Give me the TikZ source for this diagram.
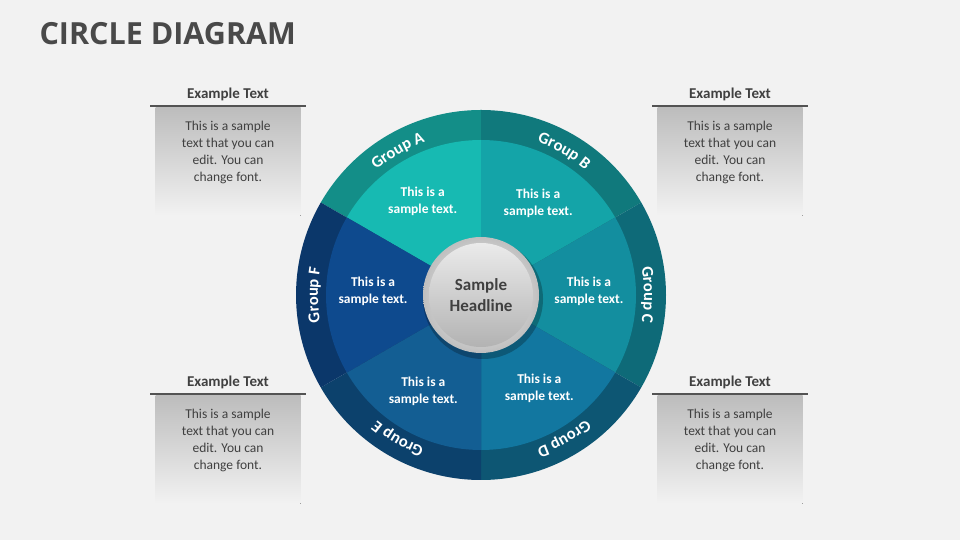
\documentclass[tikz,border=0pt]{standalone}
\usepackage{fontspec}
\setmainfont{Carlito}
\newfontfamily\titlefont{Open Sans}
\usetikzlibrary{decorations.text,shadows,calc}
\definecolor{bg}{HTML}{F2F2F2}
\definecolor{txt}{HTML}{404040}
\definecolor{oA}{HTML}{138E88}\definecolor{iA}{HTML}{17BAB2}
\definecolor{oB}{HTML}{10797C}\definecolor{iB}{HTML}{14A4A8}
\definecolor{oC}{HTML}{0E6A78}\definecolor{iC}{HTML}{138E9F}
\definecolor{oD}{HTML}{0D5673}\definecolor{iD}{HTML}{1277A0}
\definecolor{oE}{HTML}{0C416C}\definecolor{iE}{HTML}{135E93}
\definecolor{oF}{HTML}{0B376A}\definecolor{iF}{HTML}{0E4A8E}
\tikzset{
  x=1pt,y=1pt,
  head/.style={font=\bfseries\fontsize{15}{17}\selectfont, text=txt},
  body/.style={font=\fontsize{13.5}{17}\selectfont, text=txt, align=center},
  sect/.style={font=\bfseries\fontsize{13.5}{17}\selectfont, text=white, align=center},
  gbox/.style={top color=black!26, bottom color=bg, draw=none},
  hline/.style={draw=txt!90, line width=2pt},
}
\newcommand{\grouplabel}[3]{%
  \path[decorate,decoration={text along path,text align=center,
    text={|\bfseries\fontsize{16.5}{18}\selectfont\color{white}|#3}}]
    ($(c)+(#1:163)$) arc[start angle=#1,end angle=#2,radius=163];}
\begin{document}
\begin{tikzpicture}
\fill[bg] (0,0) rectangle (960,540);
\useasboundingbox (0,0) rectangle (960,540);
\node[anchor=west,font=\titlefont\bfseries\fontsize{30.5}{33}\selectfont,text=txt!95] (title) at (36,506) {CIRCLE DIAGRAM};
\coordinate (c) at (481,245);
% text boxes
\foreach \n/\x/\y in {tl/228/434, tr/730/434, bl/228/146, br/730/146}{
  \fill[gbox] (\x-72.5,\y-2) rectangle (\x+72.5,\y-110);
  \draw[hline] (\x-78,\y-0) -- (\x+78,\y);
  \node[head] (h\n) at (\x,\y+12) {Example Text};
  \node[body] (b\n) at (\x,\y-46) {This is a sample\\text that you can\\edit. You can\\change font.};
}
% ring sectors
\foreach \s/\e/\o/\i in {90/150/oA/iA, 30/90/oB/iB, -30/30/oC/iC, -90/-30/oD/iD, -150/-90/oE/iE, 150/210/oF/iF}{
  \fill[\o] (c) -- ++(\s:185) arc[start angle=\s,end angle=\e,radius=185] -- cycle;
  \fill[\i] (c) -- ++(\s:155) arc[start angle=\s,end angle=\e,radius=155] -- cycle;
}
\grouplabel{150}{90}{Group A}
\grouplabel{90}{30}{Group B}
\grouplabel{30}{-30}{Group C}
\grouplabel{-30}{-90}{Group D}
\grouplabel{-90}{-150}{Group E}
\grouplabel{210}{150}{Group F}
% sector texts
\node[sect] (sA) at ($(c)+(122:110)$) {This is a\\sample text.};
\node[sect] (sB) at ($(c)+(58:108)$) {This is a\\sample text.};
\node[sect] (sC) at ($(c)+(2:108)$) {This is a\\sample text.};
\node[sect] (sD) at ($(c)+(-58:110)$) {This is a\\sample text.};
\node[sect] (sE) at ($(c)+(-121:112)$) {This is a\\sample text.};
\node[sect] (sF) at ($(c)+(178:108)$) {This is a\\sample text.};
% centre
\fill[black,opacity=0.25] ($(c)+(2,-4)$) circle (60);
\shade[outer color=black!25, inner color=white] (c) circle (58);
\shade[top color=black!8, bottom color=black!30] (c) circle (52);
\node[font=\bfseries\fontsize{17}{21}\selectfont,text=txt,align=center] (hl) at (c) {Sample\\Headline};
\end{tikzpicture}
\end{document}
